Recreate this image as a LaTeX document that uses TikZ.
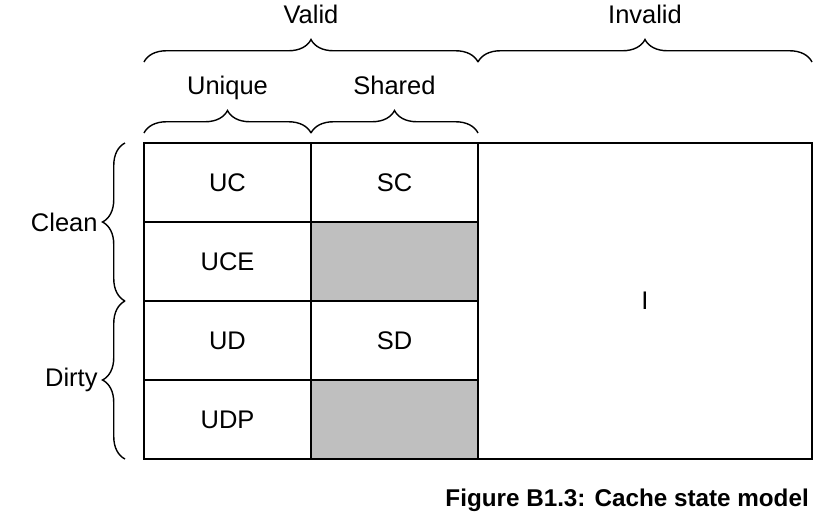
\documentclass[tikz,border=0pt]{standalone}
\usepackage{fontspec}
\setmainfont{Liberation Sans}
\usetikzlibrary{decorations.pathreplacing}

\begin{document}
\begin{tikzpicture}[
		x=0.02cm, y=-0.02cm,
		cell/.style={draw=black, thick},
		grey/.style={fill=gray!50},
		brc/.style={decorate, decoration={brace, amplitude=0.45cm}, thick},
		lbl/.style={font=\fontsize{14.5}{16}\selectfont},
		tlbl/.style={lbl, text depth=0.25ex, above=0.68cm, inner sep=1pt},
		llbl/.style={lbl, left=0.5cm, inner sep=1pt},
	]
		\useasboundingbox (0,0) rectangle (826,518);
		% shaded cells
		\fill[grey] (311,222) rectangle (478,301);
		\fill[grey] (311,380) rectangle (478,459);
		% grid
		\draw[cell] (144,143) rectangle (812,459);
		\draw[cell] (311,143) -- (311,459);
		\draw[cell] (478,143) -- (478,459);
		\foreach \y in {222,301,380} \draw[cell] (144,\y) -- (478,\y);
		% states
		\node[lbl] (uc) at (227.5,182.5) {UC};
		\node[lbl] (sc) at (394.5,182.5) {SC};
		\node[lbl] (uce) at (227.5,261.5) {UCE};
		\node[lbl] (ud) at (227.5,340.5) {UD};
		\node[lbl] (sd) at (394.5,340.5) {SD};
		\node[lbl] (udp) at (227.5,419.5) {UDP};
		\node[lbl] (i) at (645,301) {I};
		% braces
		\draw[brc] (144,62) -- (478,62) node[midway, tlbl] {Valid};
		\draw[brc] (478,62) -- (812,62) node[midway, tlbl] {Invalid};
		\draw[brc] (144,133) -- (311,133) node[midway, tlbl] {Unique};
		\draw[brc] (311,133) -- (478,133) node[midway, tlbl] {Shared};
		\draw[brc] (125,301) -- (125,143) node[midway, llbl] {Clean};
		\draw[brc] (125,459) -- (125,301) node[midway, llbl] {Dirty};
		% caption
		\node[font=\fontsize{13.8}{16}\selectfont\bfseries, anchor=east] (cap) at (815,500) {Figure B1.3: Cache state model};
	\end{tikzpicture}
\end{document}
